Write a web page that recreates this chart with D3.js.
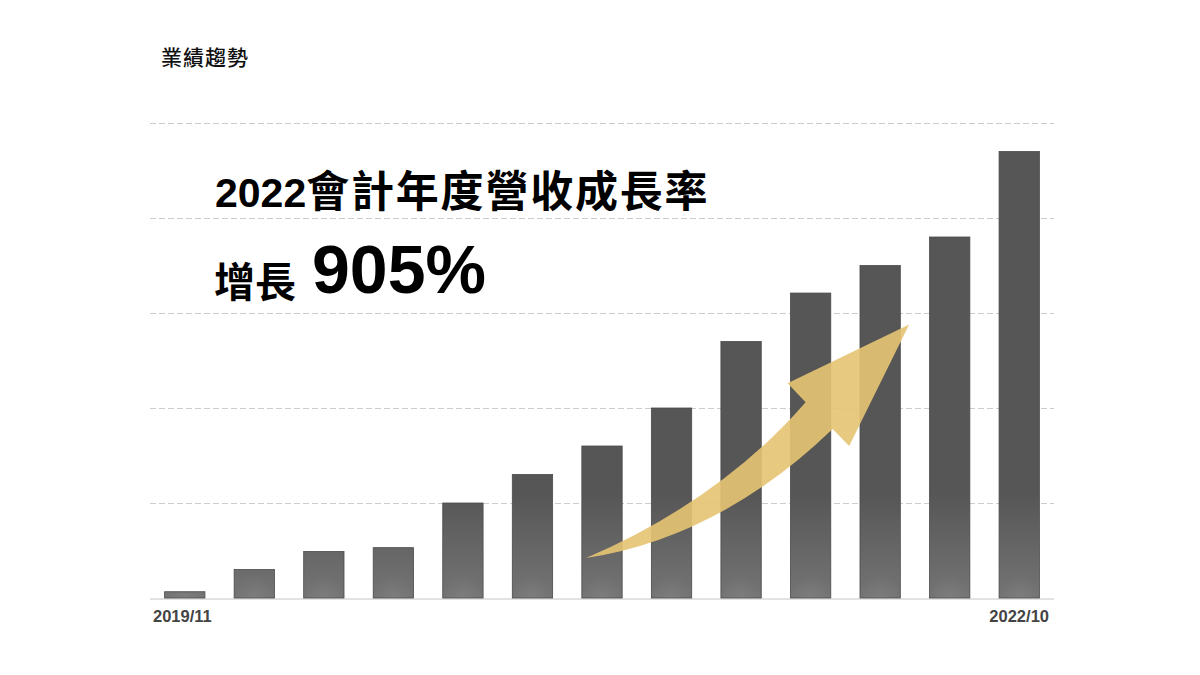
<!DOCTYPE html>
<html>
<head>
  <meta charset="utf-8">
  <title>業績趨勢</title>
  <script src="https://d3js.org/d3.v7.min.js"></script>
  <style>
    body { margin: 0; background: #fff; }
    .grid line { stroke: #cccccc; stroke-dasharray: 6,3; }
    .cjk { font-family: "Noto Sans CJK TC", "Noto Sans CJK JP", sans-serif; }
    .num { font-family: "Liberation Sans", Arial, sans-serif; }
  </style>
</head>
<body>
  <svg id="chart" width="1200" height="675"></svg>

  <script>
    // quarterly revenue (grid step = 100)
    const periods = d3.range(1, 14);
    const revenue = [6.6, 30, 49, 53, 100, 130, 160, 200, 270, 321, 350, 380, 470];
    const yTicks = [100, 200, 300, 400, 500];
    const edgeLabels = ["2019/11", "2022/10"];

    const svg = d3.select("#chart");
    const margin = { top: 123, right: 146, bottom: 77, left: 150 };
    const width = +svg.attr("width");
    const height = +svg.attr("height");

    const x = d3.scaleBand()
      .domain(periods)
      .range([margin.left, width - margin.right])
      .paddingInner(0.42)
      .paddingOuter(0.21);

    const y = d3.scaleLinear()
      .domain([0, 500])
      .range([height - margin.bottom, margin.top]);

    const defs = svg.append("defs");

    // bars darken towards the top, same for all bars
    const lin = defs.append("linearGradient")
      .attr("id", "barFill")
      .attr("gradientUnits", "userSpaceOnUse")
      .attr("x1", 0).attr("x2", 0)
      .attr("y1", y(0)).attr("y2", y(110));
    lin.append("stop").attr("offset", "0%").attr("stop-color", "#747474");
    lin.append("stop").attr("offset", "100%").attr("stop-color", "#565656");

    const glow = defs.append("radialGradient").attr("id", "glow");
    glow.append("stop").attr("offset", "0%").attr("stop-color", "#fff").attr("stop-opacity", 0.07);
    glow.append("stop").attr("offset", "100%").attr("stop-color", "#fff").attr("stop-opacity", 0);

    // gridlines
    svg.append("g")
      .attr("class", "grid")
      .selectAll("line")
      .data(yTicks)
      .join("line")
      .attr("x1", margin.left)
      .attr("x2", width - margin.right)
      .attr("y1", d => y(d) + 0.5)
      .attr("y2", d => y(d) + 0.5);

    // baseline
    svg.append("line")
      .attr("x1", margin.left)
      .attr("x2", width - margin.right)
      .attr("y1", y(0) + 1)
      .attr("y2", y(0) + 1)
      .attr("stroke", "#e2e2e2")
      .attr("stroke-width", 2);

    const bars = svg.append("g");
    bars.selectAll("rect")
      .data(revenue)
      .join("rect")
      .attr("x", (d, i) => x(periods[i]))
      .attr("y", d => y(d))
      .attr("width", x.bandwidth())
      .attr("height", d => y(0) - y(d))
      .attr("fill", "url(#barFill)")
      .attr("stroke", "#4a4a4a")
      .attr("stroke-width", 0.8);

    // soft highlight at the foot of each bar
    revenue.forEach((d, i) => {
      const id = "clip" + i;
      defs.append("clipPath").attr("id", id)
        .append("rect")
        .attr("x", x(periods[i]) + 1)
        .attr("y", y(d) + 1)
        .attr("width", x.bandwidth() - 2)
        .attr("height", y(0) - y(d) - 1);
      bars.append("ellipse")
        .attr("clip-path", "url(#" + id + ")")
        .attr("cx", x(periods[i]) + x.bandwidth() / 2)
        .attr("cy", y(0))
        .attr("rx", x.bandwidth() * 0.5)
        .attr("ry", 24)
        .attr("fill", "url(#glow)");
    });

    // first / last period labels
    svg.append("text")
      .attr("class", "num")
      .attr("x", margin.left + 3)
      .attr("y", 622)
      .attr("font-size", 16.5)
      .attr("font-weight", "bold")
      .attr("fill", "#444")
      .text(edgeLabels[0]);

    svg.append("text")
      .attr("class", "num")
      .attr("x", width - margin.right - 5)
      .attr("y", 622)
      .attr("text-anchor", "end")
      .attr("font-size", 16.5)
      .attr("font-weight", "bold")
      .attr("fill", "#444")
      .text(edgeLabels[1]);

    // growth arrow, anchored on bar positions
    const bx = i => x(periods[i]) + x.bandwidth() / 2;
    const tail = [bx(6) - 16, y(42)];
    const notchTop = [bx(9) - 5, y(206)];
    const barbTop = [bx(9) - 23, y(226)];
    const tip = [bx(10) + 29, y(288)];
    const barbLow = [bx(10) - 31, y(160)];
    const notchLow = [bx(9) + 22, y(178)];

    const arrow = d3.path();
    arrow.moveTo(...tail);
    arrow.quadraticCurveTo(bx(7) + 49, y(103), ...notchTop);
    arrow.lineTo(...barbTop);
    arrow.lineTo(...tip);
    arrow.lineTo(...barbLow);
    arrow.lineTo(...notchLow);
    arrow.quadraticCurveTo(bx(7) + 49, y(64), ...tail);
    arrow.closePath();

    svg.append("path")
      .attr("d", arrow.toString())
      .attr("fill", "#e6c473")
      .attr("opacity", 0.91);

    // title
    svg.append("text")
      .attr("class", "cjk")
      .attr("x", 161)
      .attr("y", 65)
      .attr("font-size", 21)
      .attr("font-weight", 500)
      .attr("letter-spacing", 1)
      .attr("fill", "#111")
      .text("業績趨勢");

    // headline
    const head = svg.append("text")
      .attr("class", "cjk")
      .attr("x", 215)
      .attr("y", 207)
      .attr("font-size", 43)
      .attr("font-weight", "bold")
      .attr("fill", "#000");
    head.append("tspan").attr("class", "num").attr("font-size", 41).text("2022");
    head.append("tspan").attr("letter-spacing", 1.8).text("會計年度營收成長率");

    const growth = svg.append("text")
      .attr("class", "cjk")
      .attr("x", 214)
      .attr("y", 297)
      .attr("font-size", 41)
      .attr("font-weight", "bold")
      .attr("fill", "#000");
    growth.append("tspan").text("增長");
    growth.append("tspan")
      .attr("class", "num")
      .attr("dx", 16)
      .attr("dy", -4)
      .attr("font-size", 68)
      .attr("letter-spacing", 0)
      .text("905%");
  </script>
</body>
</html>
